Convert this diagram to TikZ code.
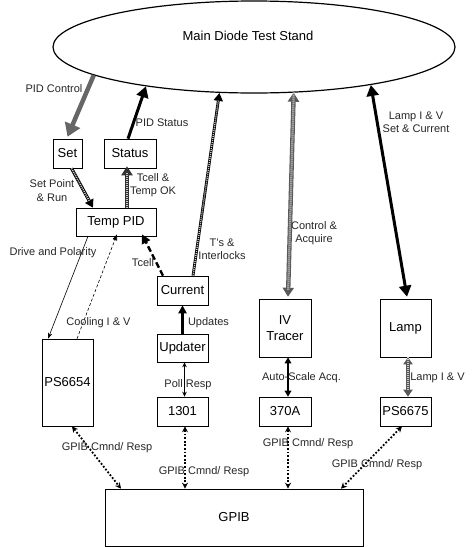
\documentclass[tikz,border=0pt]{standalone}
\usepackage{fontspec}
\setmainfont{Liberation Sans}
\usetikzlibrary{arrows.meta}
\usetikzlibrary{shapes.geometric}

\tikzset{
  box/.style={draw, line width=0.6pt, inner sep=0pt, align=center, font=\fontsize{13}{16}\selectfont},
  lbl/.style={inner sep=0pt, align=center, text=black!85, font=\fontsize{11}{13.5}\selectfont},
  fatgray/.style={line width=4.5pt, draw=black!60, -{Triangle[length=13pt,width=16pt]}},
  fatblack/.style={line width=3pt, -{Triangle[length=11pt,width=12pt]}},
  stripe/.style={line width=#1, -{Triangle[length=9pt,width=11pt]},
    postaction={draw=black!20, line width=0.5*#1, dash pattern=on 1pt off 1pt, -, shorten >=7pt}},
  stripe/.default=4pt,
  gpiblink/.style={line width=1.8pt, dash pattern=on 1.8pt off 1.8pt,
    {Stealth[length=6pt,width=6pt]}-{Stealth[length=6pt,width=6pt]}},
}

\begin{document}
\begin{tikzpicture}[x=1pt, y=-1pt]
			\useasboundingbox (0,0) rectangle (474,547);

			% Test stand
			\node[draw, ellipse, line width=1.2pt, minimum width=402pt, minimum height=92pt, inner sep=0pt] (stand) at (254,47) {};
			\node[lbl, text=black, font=\fontsize{13}{15}\selectfont] (standtext) at (248,36) {Main Diode Test Stand};

			% Boxes
			\node[box, minimum width=29pt, minimum height=29pt] (set) at (67.5,153.5) {Set};
			\node[box, minimum width=52pt, minimum height=29pt] (status) at (130,153.5) {Status};
			\node[box, minimum width=80pt, minimum height=28pt] (temppid) at (116,222) {Temp PID};
			\node[box, minimum width=51pt, minimum height=29pt] (current) at (182.5,290.5) {Current};
			\node[box, minimum width=51pt, minimum height=28pt] (updater) at (182.5,348) {Updater};
			\node[box, minimum width=51pt, minimum height=29pt] (unit1301) at (182.5,411.5) {1301};
			\node[box, minimum width=51pt, minimum height=87pt] (ps6654) at (67.5,382.5) {PS6654};
			\node[box, minimum width=52pt, minimum height=58pt] (ivtracer) at (285,328) {IV\\Tracer};
			\node[box, minimum width=51pt, minimum height=58pt] (lamp) at (405.5,328) {Lamp};
			\node[box, minimum width=52pt, minimum height=29pt] (unit370a) at (285,411.5) {370A};
			\node[box, minimum width=51pt, minimum height=29pt] (ps6675) at (405.5,411.5) {PS6675};
			\node[box, minimum width=258pt, minimum height=57pt] (gpib) at (234,517.5) {GPIB};

			% Links to the stand
			\draw[fatgray] (stand.190) -- ([yshift=2pt]set.north);
			\draw[fatblack] ([xshift=-2pt]status.north) -- (stand.200);
			\draw[stripe=2.8pt, draw=black, -{Triangle[length=8pt,width=9pt]}] ([xshift=10.5pt]current.north) -- (stand.233);
			\draw[stripe=4.4pt, draw=black!65, {Triangle[length=9pt,width=11pt]}-{Triangle[length=9pt,width=11pt]},
				postaction={shorten <=7pt}] (stand.311) -- ([xshift=3pt,yshift=2pt]ivtracer.north);
			\draw[fatblack, {Triangle[length=11pt,width=12pt]}-{Triangle[length=11pt,width=12pt]}] (stand.342) -- ([xshift=1.5pt,yshift=2pt]lamp.north);

			% Temperature loop
			\draw[stripe=3.2pt, draw=black, -{Triangle[length=8pt,width=9pt]}] ([xshift=4pt]set.south) -- ([xshift=-23pt]temppid.north);
			\draw[stripe=4.2pt, draw=black!80] ([xshift=11pt]temppid.north) -- ([xshift=-3pt,yshift=2pt]status.south);
			\draw[line width=0.6pt, -{Stealth[length=6pt,width=4.5pt]}] ([xshift=-28pt]temppid.south) -- ([xshift=-19.5pt]ps6654.north);
			\draw[line width=0.6pt, dash pattern=on 3pt off 2pt, -{Triangle[length=6pt,width=4.5pt]}] ([xshift=9.5pt]ps6654.north) -- ([xshift=1pt,yshift=2pt]temppid.south);
			\draw[line width=2.4pt, dash pattern=on 6pt off 3pt, -{Triangle[length=9pt,width=9pt]}] ([xshift=-19.5pt]current.north) -- ([xshift=26pt,yshift=2pt]temppid.south);
			\draw[line width=2.2pt, -{Triangle[length=8pt,width=8pt]}] (updater.north) -- (current.south);

			% Instrument links
			\draw[line width=0.8pt, {Stealth[length=5pt,width=4.5pt]}-{Stealth[length=5pt,width=4.5pt]}] ([xshift=2pt]unit1301.north) -- ([xshift=2pt]updater.south);
			\draw[line width=1.6pt, {Triangle[length=6pt,width=6.5pt]}-{Triangle[length=6pt,width=6.5pt]}] ([xshift=3pt]ivtracer.south) -- ([xshift=3pt]unit370a.north);
			\draw[stripe=3.6pt, draw=black!65, {Triangle[length=7pt,width=9pt]}-{Triangle[length=7pt,width=9pt]},
				postaction={shorten <=6pt, shorten >=6pt}] ([xshift=2.5pt]lamp.south) -- ([xshift=2.5pt]ps6675.north);

			% GPIB bus
			\draw[gpiblink] ([xshift=4.5pt]ps6654.south) -- ([xshift=-113pt]gpib.north);
			\draw[gpiblink] ([xshift=2.5pt]unit1301.south) -- ([xshift=-49pt]gpib.north);
			\draw[gpiblink] ([xshift=3pt]unit370a.south) -- ([xshift=54pt]gpib.north);
			\draw[gpiblink] ([xshift=-3.5pt]ps6675.south) -- ([xshift=107pt]gpib.north);

			% Labels
			\node[lbl] (lpidctrl) at (54,89) {PID Control};
			\node[lbl] (lpidstat) at (162,123) {PID Status};
			\node[lbl] (lsetpt) at (52,190.5) {Set Point\\\& Run};
			\node[lbl] (ltempok) at (153,185) {Tcell \&\\Temp OK};
			\node[lbl] (ldrive) at (53,253) {Drive and Polarity};
			\node[lbl] (ltcell) at (143,263) {Tcell};
			\node[lbl] (linterlk) at (222,249) {T's \&\\Interlocks};
			\node[lbl] (lacquire) at (314,233) {Control \&\\Acquire};
			\node[lbl] (llampset) at (416,122) {Lamp I \& V\\Set \& Current};
			\node[lbl] (lcooling) at (98.5,323) {Cooling I \& V};
			\node[lbl] (lupdates) at (208.5,323) {Updates};
			\node[lbl] (lpoll) at (188,385) {Poll Resp};
			\node[lbl] (lautoscl) at (301.5,378) {Auto-Scale Acq.};
			\node[lbl] (llampiv) at (437.5,378) {Lamp I \& V};
			\node[lbl] (lgpiba) at (107,448) {GPIB Cmnd/ Resp};
			\node[lbl] (lgpibb) at (204,472) {GPIB Cmnd/ Resp};
			\node[lbl] (lgpibc) at (308,444) {GPIB Cmnd/ Resp};
			\node[lbl] (lgpibd) at (377,465) {GPIB Cmnd/ Resp};

		\end{tikzpicture}
\end{document}
